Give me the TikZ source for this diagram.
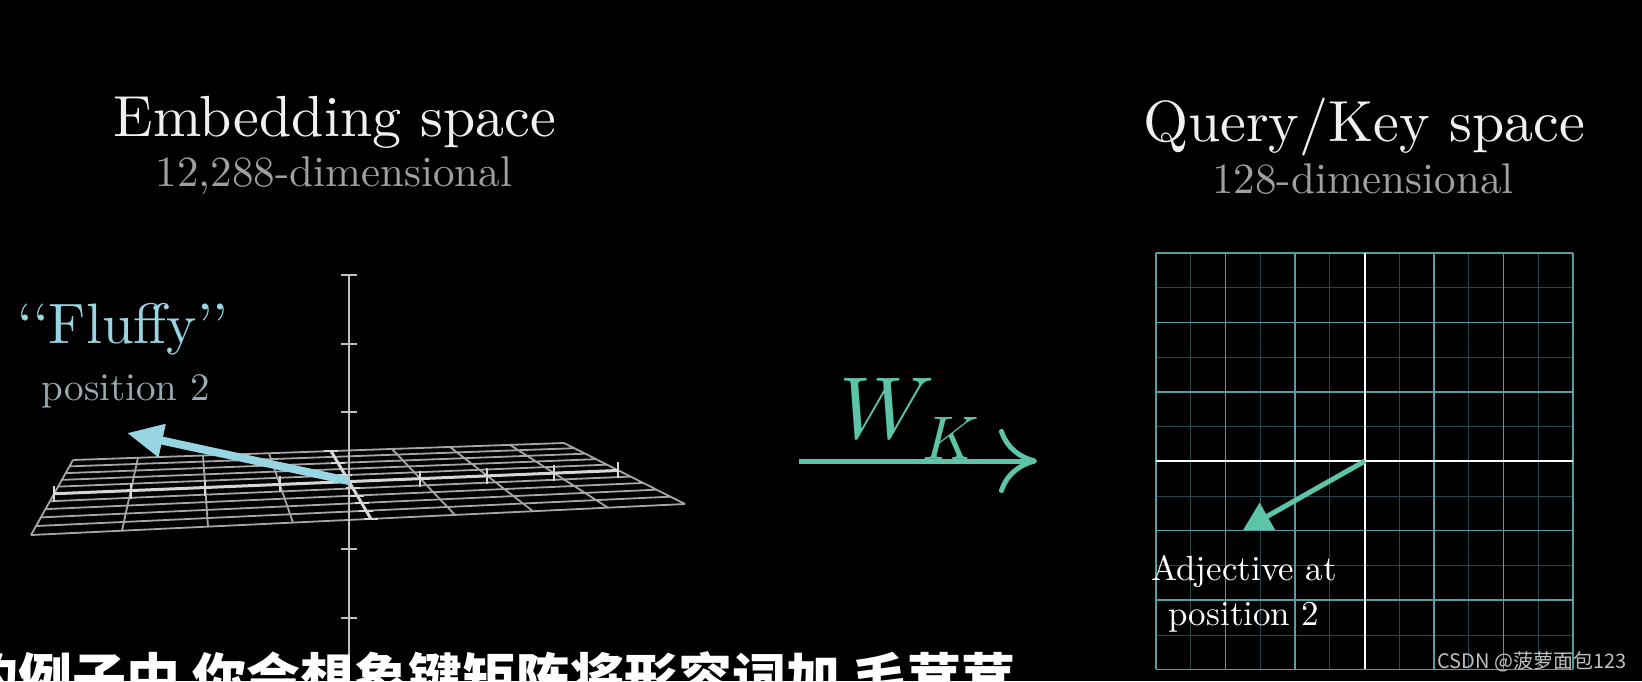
\documentclass[tikz,border=0pt]{standalone}
\usepackage{unicode-math}
\setmainfont{lmroman10-regular.otf}[ItalicFont=lmroman10-italic.otf,BoldFont=lmroman10-bold.otf]
\newfontfamily\cjk{Noto Sans CJK SC}
\usetikzlibrary{arrows.meta,calc}
\newcommand{\MapArrowType}{To}

\definecolor{titlewhite}{HTML}{F0F0F0}
\definecolor{dimgray}{HTML}{A0A0A0}
\definecolor{fluffyblue}{HTML}{98D5E3}
\definecolor{fluffygray}{HTML}{96ACB1}
\definecolor{keyteal}{HTML}{5CC4A7}
\definecolor{planegray}{HTML}{A6A6A6}
\definecolor{axisgray}{HTML}{D6D6D6}
\definecolor{gridmajor}{HTML}{5A9CA3}
\definecolor{gridminor}{HTML}{28494D}
\definecolor{markgray}{HTML}{C0C0C0}

\begin{document}
\begin{tikzpicture}[x=1pt,y=-1pt,
		title/.style={text=titlewhite,font=\fontsize{58}{62}\selectfont},
		dimtext/.style={text=dimgray,font=\fontsize{43}{46}\selectfont},
		planeline/.style={draw=planegray,line width=1.8pt},
		planeaxis/.style={draw=axisgray,line width=3pt},
		qkminor/.style={draw=gridminor,line width=1.3pt},
		qkmajor/.style={draw=gridmajor,line width=1.5pt},
		qkaxis/.style={draw=white,line width=2.5pt}]
				\useasboundingbox (0,0) rectangle (1642,681);
				\fill[black] (0,0) rectangle (1642,681);

				% titles
				\node[title,anchor=base] (embtitle) at (335,136) {Embedding space};
				\node[dimtext,anchor=base] (embdim) at (334,186) {12,288-dimensional};
				\node[title,anchor=base] (qktitle) at (1364,141) {Query/Key space};
				\node[dimtext,anchor=base] (qkdim) at (1363,193) {128-dimensional};

				% embedding plane
				\coordinate (pBL) at (73,460);
				\coordinate (pBR) at (564,443);
				\coordinate (pFR) at (685,504);
				\coordinate (pFL) at (31,535);
				\foreach \v in {0,.085,.175,.265,.355,.55,.655,.765,.88,1}
					\draw[planeline] ($(pBL)!\v!(pFL)$) -- ($(pBR)!\v!(pFR)$);
				\foreach \b/\f in {73/31,138/122,203/208,269/293,392/455,450/533,510/608,564/685}
				{
					\path ($(pBL)!{(\b-73)/491}!(pBR)$) coordinate (tb)
						($(pFL)!{(\f-31)/654}!(pFR)$) coordinate (tf);
					\draw[planeline] (tb) -- (tf);
					\draw[planeaxis,line width=2pt] ($(tb)!.45!(tf)$) ++(0,-8) -- ++(0,16);
				}
				\draw[planeaxis] ($(pBL)!.45!(pFL)$) -- ($(pBR)!.45!(pFR)$);
				\coordinate (yb) at (331,451);
				\coordinate (yf) at (371,519);
				\draw[planeaxis] (yb) -- (yf);
				\foreach \v in {0,.175,.355,.55,.655,.765,.88,1}
					\draw[planeaxis,line width=2pt] ($(yb)!\v!(yf)$) ++(-7,0) -- ++(14,0);

				% vertical axis
				\coordinate (vtop) at (349,275);
				\coordinate (vbot) at (349,681);
				\draw[draw=markgray,line width=2pt] (vtop) -- (vbot);
				\foreach \t in {275,343.5,412,549,617.5}
					\draw[draw=markgray,line width=2pt] (341,\t) -- (357,\t);

				% fluffy vector
				\coordinate (origL) at (349,481);
				\coordinate (fluffytip) at (127,433);
				\draw[-{Triangle[length=36pt,width=32pt]},fluffyblue,line width=8pt] (origL) -- (fluffytip);
				\node[anchor=base,text=fluffyblue,font=\fontsize{57}{60}\selectfont] (fluffy) at (123,343) {`{}`Fluffy'{}'};
				\node[anchor=base,text=fluffygray,font=\fontsize{39}{42}\selectfont] (fluffypos) at (126,400) {position 2};

				% W_K map
				\coordinate (wkstart) at (799,461);
				\coordinate (wkend) at (1037,461);
				\draw[-{\MapArrowType[length=38pt,width=64pt]},keyteal,line width=5pt] (wkstart) -- (wkend);
				\node[anchor=base west,text=keyteal,font=\fontsize{88}{90}\selectfont] (wklabel) at (836,438) {$W_K$};

				% query/key grid
				\foreach \k in {0,...,5}
				{
					\draw[qkminor] ({1190.75+69.5*\k},253) -- ++(0,416);
					\draw[qkminor] (1156,{287.75+69.5*\k}) -- ++(417,0);
				}
				\foreach \k in {0,...,6}
				{
					\draw[qkmajor] ({1156+69.5*\k},253) -- ++(0,416);
					\draw[qkmajor] (1156,{253+69.4*\k}) -- ++(417,0);
				}
				\coordinate (qkorig) at (1365,461);
				\draw[qkaxis] (1156,461) -- (1573,461);
				\draw[qkaxis] (1365,253) -- (1365,669);
				\coordinate (adjtip) at (1243,530);
				\draw[-{Triangle[length=28pt,width=30pt]},keyteal,line width=5pt] (qkorig) -- (adjtip);
				\node[anchor=base,text=white,font=\fontsize{35}{38}\selectfont] (adjA) at (1244,580) {Adjective at};
				\node[anchor=base,text=white,font=\fontsize{35}{38}\selectfont] (adjB) at (1244,625) {position 2};

				% subtitle and mark
				\begin{scope}
					\clip (0,0) rectangle (1642,681);
					\node[anchor=base west,text=white,font=\cjk\bfseries\fontsize{54}{58}\selectfont] (subline) at (-39,698)
						{的例子中 你会想象键矩阵将形容词加 毛茸茸};
				\end{scope}
				\node[anchor=base east,text=markgray,font=\cjk\fontsize{20}{22}\selectfont] (csdn) at (1630,668) {CSDN @菠萝面包123};
			\end{tikzpicture}
\end{document}
